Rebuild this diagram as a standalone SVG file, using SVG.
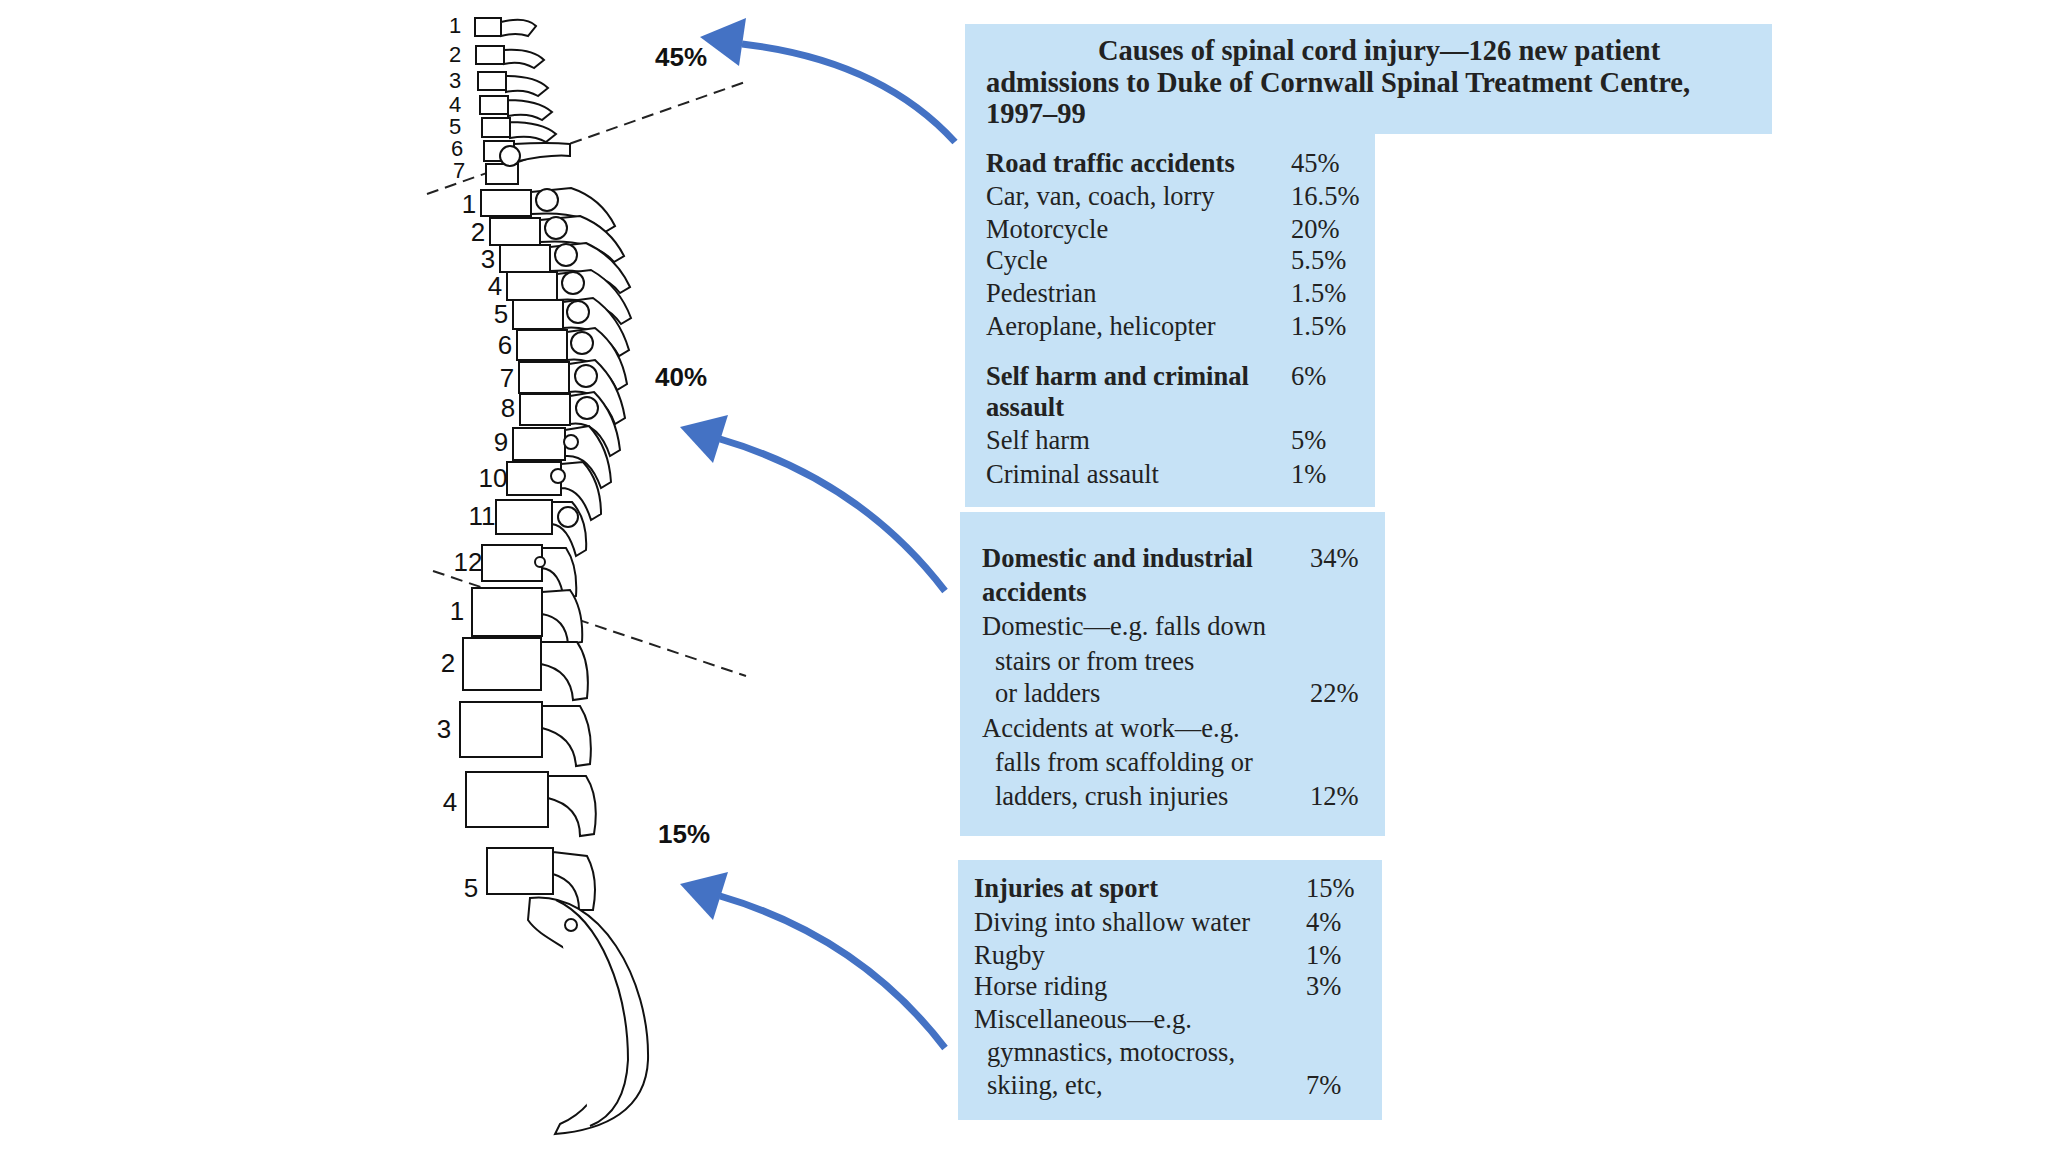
<svg xmlns="http://www.w3.org/2000/svg" width="2048" height="1152" viewBox="0 0 2048 1152">
<style>
.box{fill:#c6e2f6}
.t{font-family:"Liberation Serif",serif;font-size:26.5px;fill:#222}
.h{font-size:28.5px}
.b{font-weight:bold}
.pc{font-family:"Liberation Sans",sans-serif;font-size:26px;fill:#111;font-weight:bold}
.n{font-family:"Liberation Sans",sans-serif;font-size:26px;fill:#111;text-anchor:middle}
.nc{font-size:22px}
.v{fill:#fff;stroke:#111;stroke-width:2}
.dash{stroke:#222;stroke-width:2;stroke-dasharray:12 7;fill:none}
.arr{fill:none;stroke:#4472c4;stroke-width:7}
.head{fill:#4472c4}
</style>
<rect width="2048" height="1152" fill="#fff"/>
<g id="dashes">
<line class="dash" x1="427" y1="194" x2="748" y2="81"/>
<line class="dash" x1="433" y1="571" x2="746" y2="676"/>
</g>
<g id="spine">
<g>
<path class="v" d="M475 18 h26 v18 h-26z M501 22 q25 -6 35 4 l-8 10 q-12 -4 -27 0z"/>
<path class="v" d="M476 46 h28 v18 h-28z M504 50 q28 -2 40 10 l-10 8 q-14 -8 -30 -4z"/>
<path class="v" d="M478 72 h28 v18 h-28z M506 76 q30 0 42 12 l-10 8 q-14 -8 -32 -4z"/>
<path class="v" d="M480 96 h28 v18 h-28z M508 100 q30 0 44 12 l-10 8 q-14 -8 -34 -4z"/>
<path class="v" d="M482 118 h28 v19 h-28z M510 122 q32 0 46 12 l-10 8 q-14 -8 -36 -4z"/>
<path class="v" d="M484 141 h30 v20 h-30z M514 144 q34 -2 56 0 l0 12 q-20 -2 -56 6z"/>
<path class="v" d="M486 164 h32 v20 h-32z"/>
<circle class="v" cx="510" cy="156" r="10"/>
</g>
<g>
<path class="v" d="M481 190 h50 v26 h-50z M531 192 l40 -4 q30 10 44 38 l-10 6 q-20 -22 -74 -18z"/><circle class="v" cx="547" cy="200" r="11"/>
<path class="v" d="M490 218 h50 v27 h-50z M540 220 l40 -4 q30 12 44 40 l-10 6 q-20 -24 -74 -20z"/><circle class="v" cx="556" cy="228" r="11"/>
<path class="v" d="M500 245 h50 v27 h-50z M550 247 l36 -4 q30 14 44 44 l-10 6 q-20 -26 -70 -22z"/><circle class="v" cx="566" cy="255" r="11"/>
<path class="v" d="M507 272 h50 v28 h-50z M557 274 l34 -4 q28 16 40 48 l-10 6 q-20 -28 -64 -24z"/><circle class="v" cx="573" cy="283" r="11"/>
<path class="v" d="M513 300 h50 v29 h-50z M563 302 l30 -4 q26 18 36 52 l-10 6 q-18 -32 -56 -28z"/><circle class="v" cx="578" cy="312" r="11"/>
<path class="v" d="M517 330 h50 v30 h-50z M567 332 l28 -4 q26 20 32 56 l-10 6 q-16 -34 -50 -30z"/><circle class="v" cx="582" cy="343" r="11"/>
<path class="v" d="M519 362 h50 v31 h-50z M569 364 l26 -4 q24 22 30 58 l-10 6 q-14 -36 -46 -32z"/><circle class="v" cx="586" cy="376" r="11"/>
<path class="v" d="M520 394 h50 v31 h-50z M570 396 l24 -4 q22 22 26 58 l-10 6 q-12 -36 -40 -32z"/><circle class="v" cx="587" cy="408" r="11"/>
<path class="v" d="M513 428 h52 v32 h-52z M565 430 l24 -4 q20 22 22 56 l-10 6 q-12 -34 -36 -32z"/><circle class="v" cx="571" cy="442" r="7"/>
<path class="v" d="M507 462 h54 v33 h-54z M561 464 l22 -2 q18 20 18 52 l-10 6 q-10 -32 -30 -32z"/><circle class="v" cx="558" cy="476" r="7"/>
<path class="v" d="M496 500 h56 v34 h-56z M552 502 l20 0 q16 18 14 48 l-10 6 q-8 -30 -24 -32z"/><circle class="v" cx="568" cy="517" r="10"/>
<path class="v" d="M482 545 h60 v36 h-60z M542 548 l24 0 q12 18 10 48 l-12 4 q-4 -30 -22 -32z"/><circle class="v" cx="540" cy="562" r="5"/>
</g>
<g>
<path class="v" d="M472 588 h70 v48 h-70z M542 592 l28 -2 q14 20 12 52 l-14 2 q-2 -26 -26 -30z"/>
<path class="v" d="M463 638 h78 v52 h-78z M541 642 l36 0 q14 20 10 56 l-14 2 q-2 -30 -32 -36z"/>
<path class="v" d="M460 702 h82 v55 h-82z M542 706 l38 0 q14 22 10 58 l-14 2 q-2 -30 -34 -38z"/>
<path class="v" d="M466 772 h82 v55 h-82z M548 776 l38 0 q14 22 8 58 l-14 2 q0 -30 -32 -38z"/>
<path class="v" d="M487 848 h66 v46 h-66z M553 852 l34 4 q12 22 6 54 l-14 0 q0 -28 -26 -36z"/>
</g>
<path class="v" d="M530 898 C600 890 650 980 648 1060 C646 1110 605 1130 555 1134 L560 1124 C605 1105 625 1045 608 995 C590 950 545 945 528 920 Z"/>
<path class="v" d="M556 900 C600 920 628 990 628 1060 C626 1100 610 1118 590 1126" fill="none"/>
<circle class="v" cx="571" cy="925" r="6"/>
</g>
<g id="spine-numbers">
<text class="n nc" x="455" y="33">1</text><text class="n nc" x="455" y="62">2</text><text class="n nc" x="455" y="88">3</text><text class="n nc" x="455" y="112">4</text><text class="n nc" x="455" y="134">5</text><text class="n nc" x="457" y="156">6</text><text class="n nc" x="459" y="178">7</text>
<text class="n" x="469" y="213">1</text><text class="n" x="478" y="241">2</text><text class="n" x="488" y="268">3</text><text class="n" x="495" y="295">4</text><text class="n" x="501" y="323">5</text><text class="n" x="505" y="354">6</text><text class="n" x="507" y="387">7</text><text class="n" x="508" y="417">8</text><text class="n" x="501" y="451">9</text><text class="n" x="493" y="487">10</text><text class="n" x="482" y="525">11</text><text class="n" x="468" y="571">12</text>
<text class="n" x="457" y="620">1</text><text class="n" x="448" y="672">2</text><text class="n" x="444" y="738">3</text><text class="n" x="450" y="811">4</text><text class="n" x="471" y="897">5</text>
</g>
<g id="percent-labels">
<text class="pc" x="655" y="66">45%</text>
<text class="pc" x="655" y="386">40%</text>
<text class="pc" x="658" y="843">15%</text>
</g>
<g id="connectors">
<path class="arr" d="M955 142 Q880 60 742 44"/>
<polygon class="head" points="700,37 746,18 739,66"/>
<path class="arr" d="M945 591 Q860 480 720 439"/>
<polygon class="head" points="680,427 728,415 713,463"/>
<path class="arr" d="M945 1048 Q860 937 720 896"/>
<polygon class="head" points="680,884 728,872 713,920"/>
</g>
<g id="box-road">
<rect class="box" x="965" y="24" width="807" height="110"/>
<rect class="box" x="965" y="133" width="410" height="374"/>
<text class="t h b" x="1098" y="60">Causes of spinal cord injury—126 new patient</text>
<text class="t h b" x="986" y="92">admissions to Duke of Cornwall Spinal Treatment Centre,</text>
<text class="t h b" x="986" y="123">1997–99</text>
<text class="t b" x="986" y="172">Road traffic accidents</text><text class="t" x="1291" y="172">45%</text>
<text class="t" x="986" y="205">Car, van, coach, lorry</text><text class="t" x="1291" y="205">16.5%</text>
<text class="t" x="986" y="238">Motorcycle</text><text class="t" x="1291" y="238">20%</text>
<text class="t" x="986" y="269">Cycle</text><text class="t" x="1291" y="269">5.5%</text>
<text class="t" x="986" y="302">Pedestrian</text><text class="t" x="1291" y="302">1.5%</text>
<text class="t" x="986" y="335">Aeroplane, helicopter</text><text class="t" x="1291" y="335">1.5%</text>
<text class="t b" x="986" y="385">Self harm and criminal</text><text class="t" x="1291" y="385">6%</text>
<text class="t b" x="986" y="416">assault</text>
<text class="t" x="986" y="449">Self harm</text><text class="t" x="1291" y="449">5%</text>
<text class="t" x="986" y="483">Criminal assault</text><text class="t" x="1291" y="483">1%</text>
</g>
<g id="box-domestic">
<rect class="box" x="960" y="512" width="425" height="324"/>
<text class="t b" x="982" y="567">Domestic and industrial</text><text class="t" x="1310" y="567">34%</text>
<text class="t b" x="982" y="601">accidents</text>
<text class="t" x="982" y="635">Domestic—e.g. falls down</text>
<text class="t" x="995" y="670">stairs or from trees</text>
<text class="t" x="995" y="702">or ladders</text><text class="t" x="1310" y="702">22%</text>
<text class="t" x="982" y="737">Accidents at work—e.g.</text>
<text class="t" x="995" y="771">falls from scaffolding or</text>
<text class="t" x="995" y="805">ladders, crush injuries</text><text class="t" x="1310" y="805">12%</text>
</g>
<g id="box-sport">
<rect class="box" x="958" y="860" width="424" height="260"/>
<text class="t b" x="974" y="897">Injuries at sport</text><text class="t" x="1306" y="897">15%</text>
<text class="t" x="974" y="931">Diving into shallow water</text><text class="t" x="1306" y="931">4%</text>
<text class="t" x="974" y="964">Rugby</text><text class="t" x="1306" y="964">1%</text>
<text class="t" x="974" y="995">Horse riding</text><text class="t" x="1306" y="995">3%</text>
<text class="t" x="974" y="1028">Miscellaneous—e.g.</text>
<text class="t" x="987" y="1061">gymnastics, motocross,</text>
<text class="t" x="987" y="1094">skiing, etc,</text><text class="t" x="1306" y="1094">7%</text>
</g>
</svg>
